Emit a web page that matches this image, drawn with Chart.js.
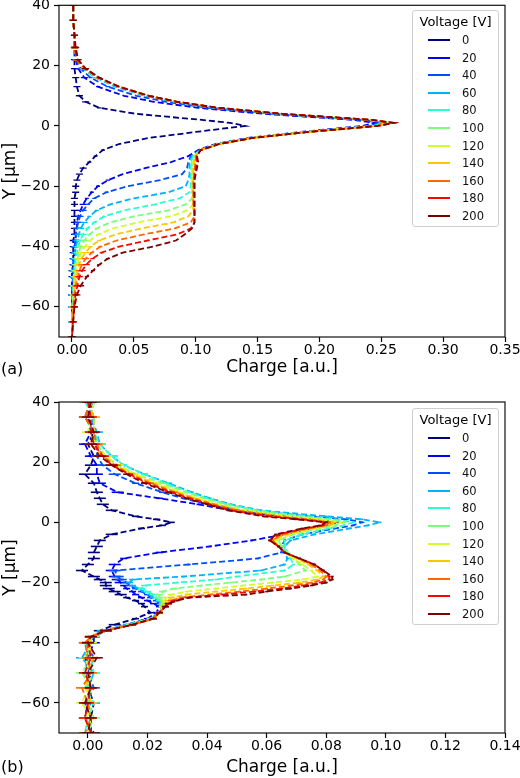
<!DOCTYPE html>
<html>
<head>
<meta charset="utf-8">
<script src="https://cdn.jsdelivr.net/npm/chart.js@4.4.1/dist/chart.umd.min.js"></script>
<style>
  body { margin: 0; background: #fff; font-family: "DejaVu Sans", sans-serif; }
  #wrap { position: relative; width: 520px; height: 778px; overflow: hidden; }
  canvas { position: absolute; left: 0; }
  #cA { top: 0; }
  #cB { top: 385px; }
  .tag { position: absolute; left: 1px; font-size: 16px; line-height: 18px; color: #000; }
  .legend { position: absolute; left: 412px; width: 87px; height: 217px; box-sizing: border-box;
            border: 1px solid #cfcfcf; border-radius: 3px; background: rgba(255,255,255,0.85); }
  .legend .ttl { position: absolute; left: 0; width: 100%; top: 3px; text-align: center;
                 font-size: 13px; line-height: 16px; color: #000; }
  .legend .ln { position: absolute; left: 15px; width: 22px; height: 2px; }
  .legend .lb { position: absolute; left: 49px; font-size: 11.5px; line-height: 14px; color: #111; }
</style>
</head>
<body>
<div id="wrap">
  <canvas id="cA" width="520" height="385"></canvas>
  <canvas id="cB" width="520" height="393"></canvas>
  <div class="tag" style="top:360px">(a)</div>
  <div class="tag" style="top:758px">(b)</div>
  <div class="legend" id="legA" style="top:10px"></div>
  <div class="legend" id="legB" style="top:408px"></div>
</div>
<script>
// ---- data ----
const voltages = [0, 20, 40, 60, 80, 100, 120, 140, 160, 180, 200];
const jetColors = ['#00007f', '#0000f3', '#004dff', '#00b3ff', '#29ffce', '#7bff7b',
                   '#ceff29', '#ffc600', '#ff6800', '#f30900', '#7f0000'];

const yTicks = [-60, -40, -20, 0, 20, 40];
const xTicksA = [0, 0.05, 0.10, 0.15, 0.20, 0.25, 0.30, 0.35];
const xTicksB = [0, 0.02, 0.04, 0.06, 0.08, 0.10, 0.12, 0.14];

// panel (a): Y positions [um]
const yA = [40, 35, 30, 26, 22, 19, 16, 13, 10, 8, 6, 4, 2, 1, 0, -2, -4, -6, -8,
            -10, -12, -14, -16, -18, -20, -22, -24, -26, -28, -30, -32, -34, -36, -38, -40,
            -42, -44, -46, -48, -50, -53, -56, -60, -65, -70];

// panel (a): charge per voltage
const a0 = [0.001, 0.001, 0.002, 0.002, 0.002, 0.002, 0.003, 0.004, 0.006, 0.011, 0.022, 0.052, 0.105, 0.128, 0.140, 0.100, 0.062, 0.038, 0.025,
            0.019, 0.014, 0.009, 0.006, 0.004, 0.003, 0.003, 0.002, 0.002, 0.002, 0.002, 0.002, 0.002, 0.002, 0.001, 0.001,
            0.001, 0.001, 0.001, 0.000, 0.000, 0.000, 0.000, 0.000, 0.000, 0.000];
const a20 = [0.001, 0.001, 0.002, 0.002, 0.003, 0.005, 0.010, 0.021, 0.042, 0.066, 0.102, 0.155, 0.228, 0.245, 0.235, 0.185, 0.142, 0.116, 0.102,
             0.094, 0.080, 0.059, 0.041, 0.029, 0.021, 0.016, 0.012, 0.009, 0.007, 0.005, 0.004, 0.004, 0.003, 0.003, 0.002,
             0.002, 0.002, 0.001, 0.001, 0.001, 0.001, 0.000, 0.000, 0.000, 0.000];
const a40 = [0.001, 0.001, 0.002, 0.002, 0.003, 0.007, 0.015, 0.029, 0.052, 0.076, 0.110, 0.162, 0.234, 0.250, 0.240, 0.188, 0.144, 0.117, 0.103,
             0.096, 0.094, 0.093, 0.089, 0.071, 0.045, 0.028, 0.018, 0.013, 0.009, 0.0065, 0.005, 0.004, 0.003, 0.003, 0.002,
             0.002, 0.001, 0.001, 0.001, 0.001, 0.000, 0.000, 0.000, 0.000, 0.000];
const a60 = [0.001, 0.001, 0.002, 0.002, 0.004, 0.009, 0.019, 0.035, 0.059, 0.082, 0.115, 0.167, 0.238, 0.255, 0.243, 0.190, 0.145, 0.118, 0.104,
             0.097, 0.095, 0.095, 0.095, 0.094, 0.092, 0.078, 0.050, 0.031, 0.020, 0.014, 0.010, 0.007, 0.0055, 0.0045, 0.003,
             0.0025, 0.002, 0.002, 0.001, 0.001, 0.001, 0.000, 0.000, 0.000, 0.000];
const a80 = [0.001, 0.001, 0.002, 0.002, 0.004, 0.010, 0.020, 0.037, 0.061, 0.084, 0.117, 0.169, 0.239, 0.255, 0.244, 0.190, 0.145, 0.118, 0.104,
             0.098, 0.096, 0.096, 0.096, 0.096, 0.096, 0.095, 0.087, 0.067, 0.042, 0.026, 0.018, 0.0125, 0.009, 0.0065, 0.005,
             0.004, 0.003, 0.0025, 0.002, 0.002, 0.001, 0.001, 0.000, 0.000, 0.000];
const a100 = [0.001, 0.001, 0.002, 0.002, 0.004, 0.010, 0.021, 0.038, 0.062, 0.085, 0.118, 0.170, 0.240, 0.257, 0.245, 0.190, 0.145, 0.118, 0.104,
              0.099, 0.097, 0.097, 0.097, 0.097, 0.097, 0.097, 0.097, 0.092, 0.078, 0.050, 0.031, 0.020, 0.014, 0.010, 0.007,
              0.0055, 0.0045, 0.003, 0.0025, 0.002, 0.0015, 0.001, 0.001, 0.000, 0.000];
const a120 = [0.001, 0.001, 0.002, 0.002, 0.004, 0.010, 0.021, 0.038, 0.062, 0.085, 0.118, 0.170, 0.241, 0.258, 0.246, 0.191, 0.146, 0.119, 0.104,
              0.099, 0.098, 0.097, 0.097, 0.097, 0.097, 0.097, 0.098, 0.098, 0.093, 0.080, 0.053, 0.033, 0.021, 0.0145, 0.0105,
              0.0073, 0.0056, 0.0046, 0.0032, 0.0026, 0.002, 0.0012, 0.001, 0.0005, 0.000];
const a140 = [0.001, 0.001, 0.002, 0.002, 0.004, 0.010, 0.021, 0.038, 0.062, 0.085, 0.118, 0.170, 0.241, 0.258, 0.246, 0.191, 0.146, 0.119, 0.104,
              0.100, 0.099, 0.098, 0.098, 0.098, 0.098, 0.098, 0.098, 0.098, 0.098, 0.094, 0.082, 0.056, 0.035, 0.022, 0.015,
              0.011, 0.0076, 0.0058, 0.0047, 0.0033, 0.0024, 0.0017, 0.001, 0.0005, 0.000];
const a160 = [0.001, 0.001, 0.002, 0.002, 0.004, 0.010, 0.021, 0.038, 0.062, 0.085, 0.118, 0.170, 0.242, 0.260, 0.247, 0.191, 0.146, 0.119, 0.104,
              0.100, 0.100, 0.099, 0.099, 0.098, 0.098, 0.098, 0.098, 0.098, 0.099, 0.099, 0.096, 0.083, 0.058, 0.036, 0.023,
              0.016, 0.011, 0.008, 0.006, 0.0048, 0.003, 0.002, 0.0013, 0.0006, 0.000];
const a180 = [0.001, 0.001, 0.002, 0.002, 0.004, 0.011, 0.022, 0.038, 0.062, 0.085, 0.118, 0.170, 0.242, 0.260, 0.247, 0.191, 0.146, 0.119, 0.104,
              0.101, 0.101, 0.100, 0.099, 0.099, 0.099, 0.099, 0.099, 0.099, 0.099, 0.099, 0.099, 0.096, 0.085, 0.061, 0.038,
              0.024, 0.0165, 0.0115, 0.0082, 0.006, 0.0044, 0.0028, 0.0018, 0.0008, 0.000];
const a200 = [0.001, 0.001, 0.002, 0.003, 0.005, 0.011, 0.022, 0.038, 0.062, 0.085, 0.118, 0.170, 0.242, 0.260, 0.247, 0.191, 0.146, 0.119, 0.104,
              0.101, 0.102, 0.101, 0.100, 0.099, 0.099, 0.099, 0.099, 0.099, 0.099, 0.099, 0.099, 0.097, 0.091, 0.084, 0.066,
              0.041, 0.029, 0.022, 0.017, 0.012, 0.007, 0.004, 0.002, 0.001, 0.000];

// panel (b): Y positions [um]
const yB = [40, 35, 30, 26, 22, 19, 16, 13, 10, 8, 6, 4, 2, 1, 0, -1, -2, -4, -6, -8,
            -10, -12, -14, -16, -18, -19, -20, -21, -22, -23, -24, -25, -26, -27, -28, -30, -32, -34, -36, -38,
            -40, -45, -50, -55, -60, -65, -70];

// panel (b): charge per voltage
const b0 = [0.001, -0.001, 0.002, 0.000, 0.002, 0.001, -0.001, 0.002, 0.003, 0.004, 0.005, 0.008, 0.016, 0.023, 0.028, 0.025, 0.018, 0.008, 0.004, 0.003,
            0.002, 0.002, 0.000, -0.002, 0.002, 0.004, 0.006, 0.006, 0.007, 0.009, 0.011, 0.013, 0.016, 0.018, 0.019, 0.021, 0.016, 0.009, 0.004, 0.002,
            0.001, -0.001, 0.001, 0.000, 0.002, 0.001, 0.001];
const b20 = [0.002, 0.000, 0.001, -0.001, 0.001, 0.003, 0.003, 0.004, 0.010, 0.024, 0.037, 0.048, 0.066, 0.077, 0.084, 0.080, 0.075, 0.066, 0.055, 0.041,
             0.024, 0.012, 0.009, 0.008, 0.009, 0.010, 0.011, 0.012, 0.013, 0.015, 0.016, 0.018, 0.020, 0.022, 0.024, 0.023, 0.020, 0.013, 0.006, 0.002,
             0.002, 0.000, -0.001, 0.001, 0.000, -0.001, 0.002];
const b40 = [0.000, 0.002, 0.001, 0.003, 0.003, 0.005, 0.009, 0.016, 0.025, 0.032, 0.040, 0.052, 0.075, 0.087, 0.092, 0.089, 0.083, 0.072, 0.066, 0.065,
             0.065, 0.057, 0.034, 0.009, 0.010, 0.011, 0.013, 0.014, 0.016, 0.018, 0.020, 0.021, 0.023, 0.024, 0.025, 0.024, 0.021, 0.014, 0.006, 0.002,
             -0.001, 0.002, 0.000, 0.002, -0.001, 0.001, 0.000];
const b60 = [0.002, 0.001, 0.003, 0.004, 0.008, 0.012, 0.019, 0.027, 0.035, 0.041, 0.048, 0.058, 0.080, 0.092, 0.098, 0.094, 0.088, 0.076, 0.068, 0.066,
             0.066, 0.067, 0.066, 0.058, 0.032, 0.015, 0.014, 0.015, 0.017, 0.019, 0.021, 0.022, 0.024, 0.025, 0.025, 0.024, 0.021, 0.013, 0.005, 0.001,
             0.001, -0.002, 0.002, 0.000, 0.001, -0.001, 0.001];
const b80 = [-0.001, 0.002, 0.002, 0.004, 0.008, 0.012, 0.019, 0.026, 0.034, 0.040, 0.047, 0.057, 0.074, 0.083, 0.089, 0.086, 0.081, 0.072, 0.066, 0.066,
             0.067, 0.068, 0.069, 0.066, 0.050, 0.043, 0.030, 0.019, 0.018, 0.020, 0.022, 0.023, 0.024, 0.025, 0.025, 0.024, 0.021, 0.014, 0.006, 0.001,
             0.000, 0.001, 0.002, -0.001, 0.002, 0.000, -0.001];
const b100 = [0.001, 0.000, 0.002, 0.003, 0.006, 0.010, 0.016, 0.025, 0.033, 0.039, 0.046, 0.055, 0.071, 0.080, 0.086, 0.083, 0.078, 0.069, 0.064, 0.065,
              0.067, 0.069, 0.071, 0.073, 0.066, 0.058, 0.048, 0.038, 0.029, 0.025, 0.024, 0.024, 0.025, 0.025, 0.025, 0.024, 0.021, 0.014, 0.006, 0.002,
              -0.001, 0.001, -0.002, 0.001, 0.000, 0.002, 0.000];
const b120 = [0.002, 0.001, 0.000, 0.003, 0.006, 0.010, 0.016, 0.023, 0.031, 0.037, 0.044, 0.053, 0.068, 0.078, 0.085, 0.082, 0.077, 0.068, 0.063, 0.064,
              0.066, 0.069, 0.072, 0.075, 0.077, 0.072, 0.062, 0.052, 0.043, 0.033, 0.028, 0.026, 0.026, 0.026, 0.025, 0.024, 0.022, 0.015, 0.006, 0.001,
              0.001, -0.001, 0.001, 0.000, -0.002, 0.001, 0.000];
const b140 = [0.000, 0.002, 0.002, 0.001, 0.005, 0.009, 0.015, 0.022, 0.030, 0.036, 0.043, 0.051, 0.065, 0.075, 0.083, 0.081, 0.075, 0.066, 0.062, 0.064,
              0.066, 0.070, 0.074, 0.077, 0.079, 0.077, 0.071, 0.062, 0.053, 0.043, 0.033, 0.028, 0.027, 0.026, 0.026, 0.024, 0.022, 0.015, 0.006, 0.001,
              0.000, 0.002, -0.001, 0.000, 0.001, -0.001, 0.001];
const b160 = [0.001, -0.001, 0.002, 0.003, 0.005, 0.009, 0.014, 0.021, 0.029, 0.035, 0.042, 0.050, 0.063, 0.073, 0.081, 0.080, 0.074, 0.065, 0.062, 0.064,
              0.066, 0.071, 0.075, 0.078, 0.080, 0.079, 0.075, 0.068, 0.060, 0.051, 0.041, 0.031, 0.028, 0.027, 0.026, 0.024, 0.022, 0.015, 0.006, 0.001,
              -0.001, 0.000, 0.001, -0.002, 0.000, 0.001, -0.001];
const b180 = [0.000, 0.001, 0.001, 0.002, 0.005, 0.008, 0.014, 0.020, 0.028, 0.034, 0.041, 0.048, 0.061, 0.072, 0.080, 0.079, 0.073, 0.064, 0.061, 0.064,
              0.066, 0.071, 0.076, 0.079, 0.081, 0.081, 0.078, 0.072, 0.065, 0.056, 0.045, 0.033, 0.029, 0.027, 0.026, 0.024, 0.022, 0.015, 0.006, 0.001,
              0.000, 0.001, -0.001, 0.001, 0.000, -0.001, 0.001];
const b200 = [0.001, 0.000, 0.002, 0.001, 0.004, 0.008, 0.013, 0.019, 0.027, 0.033, 0.040, 0.047, 0.059, 0.070, 0.080, 0.078, 0.072, 0.063, 0.061, 0.064,
              0.066, 0.071, 0.076, 0.079, 0.082, 0.082, 0.080, 0.075, 0.068, 0.060, 0.053, 0.034, 0.030, 0.027, 0.026, 0.024, 0.022, 0.015, 0.006, 0.001,
              0.000, 0.003, 0.000, 0.001, -0.001, 0.001, 0.000];

const seriesA = [a0, a20, a40, a60, a80, a100, a120, a140, a160, a180, a200];
const seriesB = [b0, b20, b40, b60, b80, b100, b120, b140, b160, b180, b200];

// ---- chart setup ----
Chart.defaults.font.family = "'DejaVu Sans', sans-serif";
Chart.defaults.color = '#000';

// draw the full box round the plot area, like matplotlib spines
const framePlugin = {
  id: 'frame',
  afterDatasetsDraw(chart) {
    const { ctx, chartArea: a } = chart;
    ctx.save();
    ctx.strokeStyle = '#111';
    ctx.lineWidth = 1.2;
    ctx.strokeRect(a.left, a.top, a.right - a.left, a.bottom - a.top);
    ctx.restore();
  }
};

function fmtY(v) {
  return v < 0 ? '\u2212' + Math.abs(v) : String(v);
}

function makePanel(canvasId, yGrid, series, xMin, xMax, xTicks, opts) {
  const datasets = series.map(function (vals, i) {
    return {
      label: String(voltages[i]),
      data: vals.map(function (q, k) { return { x: q, y: yGrid[k] }; }),
      showLine: true,
      borderColor: jetColors[i],
      backgroundColor: jetColors[i],
      borderWidth: 1.8,
      borderDash: [6, 3],
      pointStyle: 'line',
      pointBorderColor: jetColors[i],
      pointBorderWidth: opts.errWidth,
      // error-bar look: wider marks where charge is small
      pointRadius: function (ctx) {
        const v = ctx.raw ? Math.abs(ctx.raw.x) : 0;
        if (v < 0.012) return opts.errBig;
        if (v < 0.03) return opts.errMid;
        return opts.errSmall;
      },
      order: series.length - i
    };
  });

  return new Chart(document.getElementById(canvasId), {
    type: 'scatter',
    data: { datasets: datasets },
    plugins: [framePlugin],
    options: {
      responsive: false,
      animation: false,
      layout: { padding: { top: opts.top, right: 15, left: 0, bottom: 0 } },
      plugins: { legend: { display: false }, tooltip: { enabled: false } },
      scales: {
        x: {
          type: 'linear',
          min: xMin,
          max: xMax,
          afterBuildTicks: function (s) { s.ticks = xTicks.map(function (v) { return { value: v }; }); },
          afterFit: function (s) { s.height = opts.xHeight; s.paddingLeft = 0; s.paddingRight = 0; },
          ticks: {
            padding: 0,
            font: { size: 14 },
            color: '#000',
            callback: function (v) { return Number(v).toFixed(2); }
          },
          grid: { drawOnChartArea: false, drawTicks: true, tickLength: 5, tickColor: '#000', tickWidth: 1.2 },
          border: { display: false },
          title: { display: true, text: 'Charge [a.u.]', font: { size: 17 }, color: '#000',
                   padding: { top: 0, bottom: opts.titlePad } }
        },
        y: {
          type: 'linear',
          min: -70,
          max: 40,
          afterBuildTicks: function (s) { s.ticks = yTicks.map(function (v) { return { value: v }; }); },
          afterFit: function (s) { s.width = 59; s.paddingTop = 0; s.paddingBottom = 0; },
          ticks: { padding: 4, font: { size: 14 }, color: '#000', callback: fmtY },
          grid: { drawOnChartArea: false, drawTicks: true, tickLength: 5, tickColor: '#000', tickWidth: 1.2 },
          border: { display: false },
          title: { display: true, text: 'Y [\u03bcm]', font: { size: 17 }, color: '#000',
                   padding: { top: 0, bottom: 0 } }
        }
      }
    }
  });
}

makePanel('cA', yA, seriesA, -0.0105, 0.35, xTicksA,
  { top: 5, xHeight: 48, titlePad: 7, errBig: 3.5, errMid: 2, errSmall: 0, errWidth: 1.3 });
makePanel('cB', yB, seriesB, -0.0097, 0.14, xTicksB,
  { top: 17, xHeight: 45, titlePad: 0, errBig: 6, errMid: 3.5, errSmall: 1.5, errWidth: 1.6 });

// ---- legends (matplotlib style box, top right) ----
function buildLegend(id) {
  const box = document.getElementById(id);
  const t = document.createElement('div');
  t.className = 'ttl';
  t.textContent = 'Voltage [V]';
  box.appendChild(t);
  voltages.forEach(function (v, i) {
    const yc = Math.round(29 + i * 17.6);
    const ln = document.createElement('div');
    ln.className = 'ln';
    ln.style.top = (yc - 1) + 'px';
    ln.style.background = jetColors[i];
    box.appendChild(ln);
    const lb = document.createElement('div');
    lb.className = 'lb';
    lb.style.top = (yc - 7) + 'px';
    lb.textContent = String(v);
    box.appendChild(lb);
  });
}
buildLegend('legA');
buildLegend('legB');
</script>
</body>
</html>
